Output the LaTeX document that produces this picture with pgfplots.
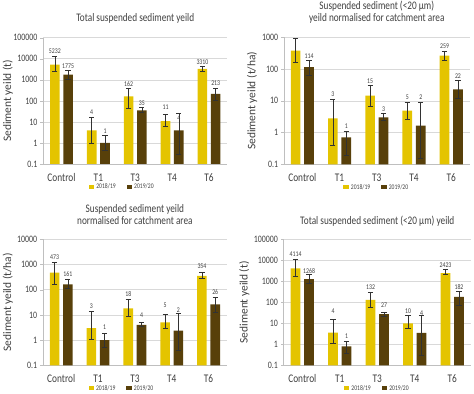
\documentclass[border=0pt]{standalone}
\usepackage{pgfplots}
\pgfplotsset{compat=1.18}
\usepackage{pgfplotstable}
\usepackage{fontspec}
\setmainfont{Carlito}
\newfontfamily\cf{Carlito}[FakeStretch=0.8]
\definecolor{cY}{RGB}{228,196,0}
\definecolor{cB}{RGB}{88,64,10}
\definecolor{gridc}{RGB}{217,217,217}
\definecolor{axc}{RGB}{191,191,191}
\definecolor{txt}{RGB}{64,64,64}
\definecolor{errc}{RGB}{50,50,50}

% panel 1: Total suspended sediment yeild
\pgfplotstableread{
x A Alo Ahi B Blo Bhi
0 5232 2450 12600 1775 1070 2950
1 4 1 16.6 1 0.44 2.2
2 162 45 398 35 29 50
3 11 6 23 4 0.28 25.7
4 3310 2640 4560 213 112 400
}\tabA
\pgfplotstableread{
x y t
-0.18 21700 5232
0.18 4550 1775
0.82 29 4
1.18 3.5 1
1.82 630 162
2.18 78 35
2.82 50 11
3.18 15 4
3.82 7250 3310
4.18 690 213
}\labA
% panel 2
\pgfplotstableread{
x A Alo Ahi B Blo Bhi
0 380 163 930 114 65 184
1 2.8 0.39 11.4 0.71 0.19 1.12
2 14.5 6.6 32 3.0 2.5 4
3 4.9 2.6 9.3 1.66 0.15 8.7
4 263 195 353 23 12 44
}\tabB
\pgfplotstableread{
x y t
0.18 258 114
0.82 15.9 3
1.18 1.6 1
1.82 40 15
2.18 5.5 3
2.82 12.9 5
3.18 12.9 2
3.82 510 259
4.18 60 22
}\labB
% panel 3
\pgfplotstableread{
x A Alo Ahi B Blo Bhi
0 473 162 1260 161 110 250
1 3 1.07 13.8 1 0.5 1.9
2 18 8.7 41 4 3.5 5.2
3 5 2.85 10.5 2.4 0.4 12
4 354 293 505 26 13 51
}\tabC
\pgfplotstableread{
x y t
-0.18 2000 473
0.18 400 161
0.82 22.4 3
1.18 3.2 1
1.82 69 18
2.18 9.5 4
2.82 24 5
3.18 15 2
3.82 870 354
4.18 81 26
}\labC
% panel 4
\pgfplotstableread{
x A Alo Ahi B Blo Bhi
0 4114 1780 10700 1268 830 2150
1 3.6 1.07 14.8 0.8 0.36 1.45
2 132 60 310 27 22 35
3 10 5.6 24 3.5 0.3 24
4 2423 2150 3600 182 72 350
}\tabD
\pgfplotstableread{
x y t
-0.18 19400 4114
0.18 3100 1268
0.82 37 4
1.18 2.4 1
1.82 500 132
2.18 72 27
2.82 37 10
3.18 31 4
3.82 5700 2423
4.18 540 182
}\labD

\pgfplotsset{
  legend image code/.code={\fill[#1] (0bp,-2bp) rectangle (5.5bp,2bp);},
  every axis/.append style={
    scale only axis,
    ymin=0.1,
    xmin=-0.5, xmax=4.5,
    xtick={0,1,2,3,4},
    xticklabels={Control,T1,T3,T4,T6},
    axis x line*=bottom, axis y line*=left,
    axis line style={draw=axc},
    ymajorgrids, grid style={draw=gridc, line width=0.5pt},
    yminorticks=false,
    xtick style={draw=none},
    ytick style={draw=axc},
    tick align=outside, major tick length=2.5bp,
    yticklabel style={font=\cf\fontsize{9.9}{11}\selectfont, text=txt, inner sep=0pt, xshift=-3bp},
    xticklabel style={font=\cf\fontsize{11.7}{13}\selectfont, text=txt, anchor=center, yshift=-11bp},
    ylabel style={anchor=center, font=\fontsize{11.5}{13}\selectfont, text=txt},
    title style={anchor=center, font=\cf\fontsize{11.6}{12}\selectfont, text=txt, align=center},
    legend style={at={(0.5,0)}, anchor=center, yshift=-23bp, draw=none, fill=none,
      font=\cf\fontsize{7.1}{8}\selectfont, text=txt,
      /tikz/every even column/.append style={column sep=9bp}},
    legend columns=2,
  },
}

\newcommand{\bars}[2]{%
  \addplot[ybar, bar width=0.26, bar shift=-0.18, fill=cY, draw=none, forget plot]
    table[x=x, y=A] {#1};
  \addplot[ybar, bar width=0.26, bar shift=0.18, fill=cB, draw=none, forget plot]
    table[x=x, y=B] {#1};
  \addplot[draw=none, mark=none, forget plot,
    error bars/y dir=both, error bars/y explicit,
    error bars/error bar style={line width=0.5pt, draw=errc},
    error bars/error mark options={rotate=90, mark size=2.6bp, line width=0.5pt, draw=errc}]
    table[x expr=\thisrow{x}-0.18, y=A, y error plus expr=\thisrow{Ahi}-\thisrow{A}, y error minus expr=\thisrow{A}-\thisrow{Alo}] {#1};
  \addplot[draw=none, mark=none, forget plot,
    error bars/y dir=both, error bars/y explicit,
    error bars/error bar style={line width=0.5pt, draw=errc},
    error bars/error mark options={rotate=90, mark size=2.6bp, line width=0.5pt, draw=errc}]
    table[x expr=\thisrow{x}+0.18, y=B, y error plus expr=\thisrow{Bhi}-\thisrow{B}, y error minus expr=\thisrow{B}-\thisrow{Blo}] {#1};
  \addplot[only marks, mark=*, mark size=0pt, mark options={draw=none, fill=none},
    forget plot, nodes near coords, point meta=explicit symbolic,
    every node near coord/.append style={anchor=center, font=\cf\fontsize{7.3}{8}\selectfont, text=txt, inner sep=0pt}]
    table[x=x, y=y, meta=t] {#2};
  \addlegendimage{fill=cY, draw=none}\addlegendentry{2018/19}
  \addlegendimage{fill=cB, draw=none}\addlegendentry{2019/20}
}

\begin{document}
\begin{tikzpicture}
\useasboundingbox (0,0) rectangle (474bp,394bp);

\begin{axis}[ymode=log, log origin=infty,
  at={(43bp,230bp)}, anchor=south west, width=184.5bp, height=126.3bp,
  ymax=100000, ytick={0.1,1,10,100,1000,10000,100000},
  yticklabels={0.1,1,10,100,1000,10000,100000},
  ylabel={Sediment yeild (t)},
  ylabel style={at={(axis description cs:-0.19,0.5)}},
  legend style={xshift=-13bp},
  title style={at={(0.5,1)}, yshift=13.7bp},
  title={Total suspended sediment yeild}]
\bars{\tabA}{\labA}
\end{axis}

\begin{axis}[ymode=log, log origin=infty,
  at={(283.7bp,229.7bp)}, anchor=south west, width=186.2bp, height=127bp,
  ymax=1000, ytick={0.1,1,10,100,1000},
  yticklabels={0.1,1,10,100,1000},
  ylabel={Sediment yeild (t/ha)},
  ylabel style={at={(axis description cs:-0.17,0.5)}},
  title style={at={(0.5,1)}, yshift=18.8bp},
  title={Suspended sediment (<20 µm)\\yeild normalised for catchment area}]
\bars{\tabB}{\labB}
\end{axis}

\begin{axis}[ymode=log, log origin=infty,
  at={(42.8bp,28.7bp)}, anchor=south west, width=184.2bp, height=126bp,
  ymax=10000, ytick={0.1,1,10,100,1000,10000},
  yticklabels={0.1,1,10,100,1000,10000},
  ylabel={Sediment yeild (t/ha)},
  ylabel style={at={(axis description cs:-0.19,0.5)}},
  legend style={xshift=-13bp},
  title style={at={(0.5,1)}, yshift=18.5bp},
  title={Suspended sediment yeild\\normalised for catchment area}]
\bars{\tabC}{\labC}
\end{axis}

\begin{axis}[ymode=log, log origin=infty,
  at={(283.6bp,28.7bp)}, anchor=south west, width=187.4bp, height=126bp,
  ymax=100000, ytick={0.1,1,10,100,1000,10000,100000},
  yticklabels={0.1,1,10,100,1000,10000,100000},
  ylabel={Sediment yeild (t)},
  ylabel style={at={(axis description cs:-0.21,0.5)}},
  title style={at={(0.5,1)}, yshift=12.5bp},
  title={Total suspended sediment (<20 µm) yeild}]
\bars{\tabD}{\labD}
\end{axis}
\end{tikzpicture}
\end{document}
